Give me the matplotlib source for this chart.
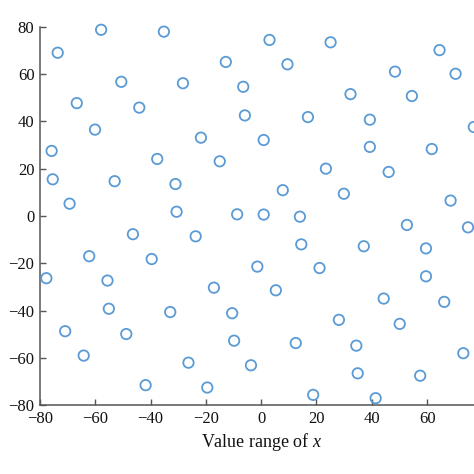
import numpy as np
import matplotlib.pyplot as plt

# ============================
# Data
# ============================
x_vals = [-57.9, -35.2, -73.6, -12.8, -50.6, -28.3, -6.5, -66.7, -44.1, -60.1,
          -21.8, -75.8, -37.6, -15.0, -75.4, -53.0, -31.0, -69.3, -30.6, -8.7,
          -46.4, -23.7,
          3.0, 25.1, 64.5, 9.5, 48.4, 70.3, 32.3, 54.5, -5.9, 16.9,
          39.3, 76.9, 0.9, 39.3, 61.7, 23.4, 46.1, 7.8, 29.9, 68.5,
          0.9, 14.0, 52.7, 74.8,
          -62.2, -39.6, -77.7, -55.6, -17.1, -55.1, -32.9, -10.5, -70.9, -48.8,
          -9.8, -64.2, -26.3, -41.8, -19.5,
          14.5, 37.1, 59.6, -1.4, 21.1, 59.6, 5.3, 44.3, 66.2, 28.1,
          50.1, 12.5, 34.4, 73.1, -3.7, 34.9, 57.5, 18.8, 41.4]
y_vals = [78.7, 77.9, 69.0, 65.1, 56.7, 56.1, 54.6, 47.7, 45.8, 36.5,
          33.1, 27.5, 24.1, 23.1, 15.5, 14.7, 13.5, 5.2, 1.8, 0.7,
          -7.7, -8.6,
          74.4, 73.4, 70.1, 64.1, 61.0, 60.1, 51.5, 50.7, 42.5, 41.8,
          40.7, 37.6, 32.1, 29.2, 28.3, 20.0, 18.6, 10.9, 9.4, 6.5,
          0.6, -0.3, -3.8, -4.8,
          -17.0, -18.2, -26.3, -27.3, -30.3, -39.2, -40.6, -41.1, -48.7, -49.9,
          -52.7, -59.0, -62.0, -71.5, -72.5,
          -12.0, -12.8, -13.7, -21.4, -22.0, -25.5, -31.4, -34.9, -36.3, -43.9,
          -45.6, -53.7, -54.8, -58.0, -63.1, -66.5, -67.5, -75.6, -77.0]

x_ticks = [-80, -60, -40, -20, 0, 20, 40, 60]
y_ticks = [-80, -60, -40, -20, 0, 20, 40, 60, 80]

plt.rcParams['font.family'] = ['Liberation Serif', 'DejaVu Serif']
plt.rcParams['mathtext.fontset'] = 'custom'
plt.rcParams['mathtext.rm'] = 'Liberation Serif'
plt.rcParams['mathtext.it'] = 'Liberation Serif:italic'

fig = plt.figure(figsize=(4.74, 4.74), dpi=100)
# axes run past the right edge, like the cropped original
ax = fig.add_axes([0.0844, 0.145, 0.9333, 0.7987])

ax.scatter(x_vals, y_vals, s=56, facecolors='none', edgecolors='#5b9bd5',
           linewidths=1.3, clip_on=False, zorder=3)

ax.set_xlim(-80, 80)
ax.set_ylim(-80, 80)
ax.set_xticks(x_ticks)
ax.set_yticks(y_ticks)

for side in ['top', 'right']:
    ax.spines[side].set_visible(False)
for side in ['left', 'bottom']:
    ax.spines[side].set_color('#555555')
    ax.spines[side].set_linewidth(1.1)

ax.tick_params(direction='in', length=4, width=1, color='#555555',
               labelsize=12, labelcolor='#111111', pad=4)
ax.set_xlabel('Value range of $x$', fontsize=13, color='#111111', labelpad=3)

fig.savefig('out.png', dpi=100)
